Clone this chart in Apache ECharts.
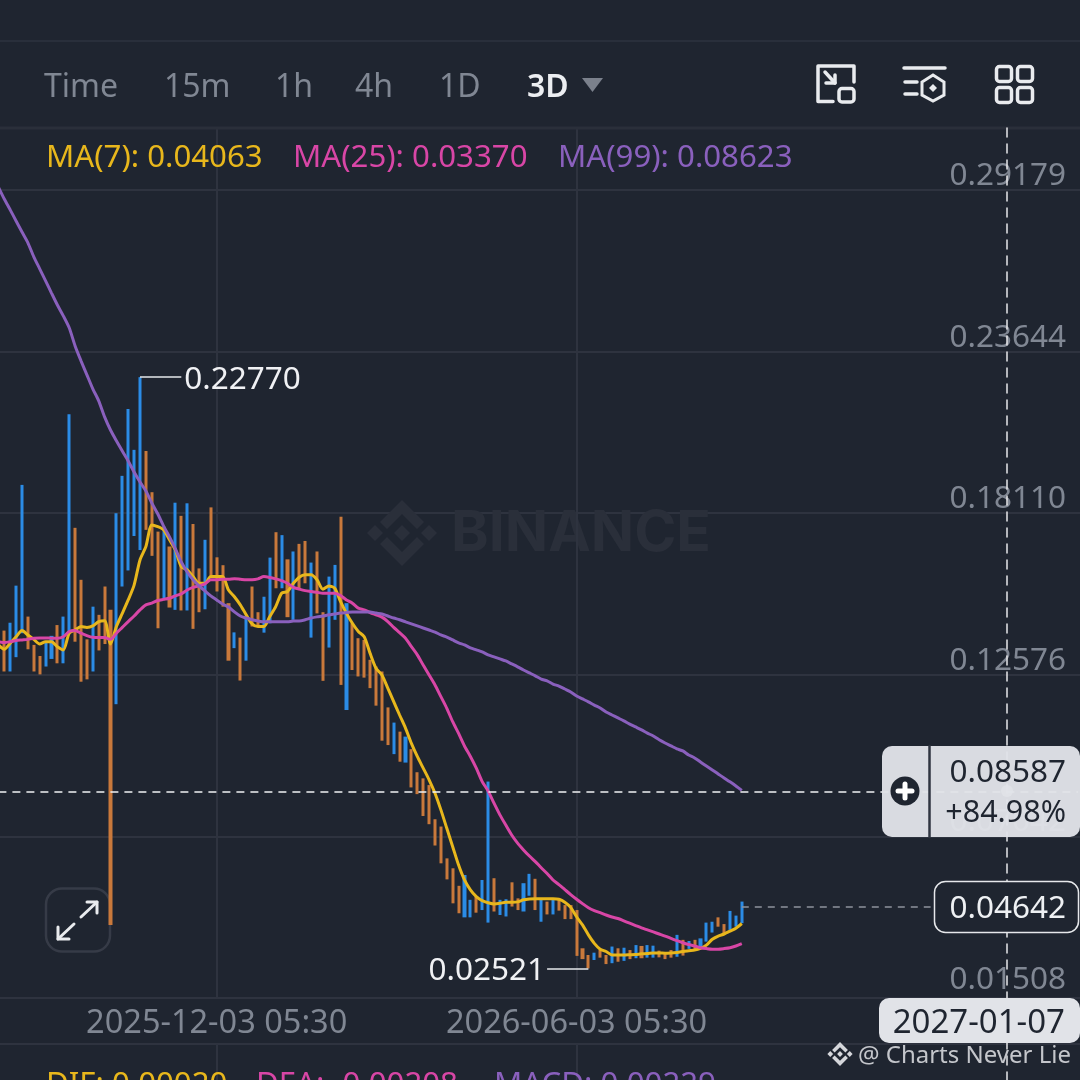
<!DOCTYPE html>
<html>
<head>
<meta charset="utf-8">
<style>html,body{margin:0;padding:0;background:#1f2530;overflow:hidden}#c{width:1080px;height:1080px}</style>
<script src="https://cdn.jsdelivr.net/npm/echarts@6/dist/echarts.min.js"></script>
</head>
<body>
<div id="c"></div>
<script>
const candleDir = ("DDUUUDDDUU"+"DUUDDDUDDD"+"UUUUUDDDUD"+"UDUDDUDDDD"+"UDUDDUUDUD"+"UDDUDDUUDU"+"DDDDDDDUDU"+"DDDDDDDDDU"+"UDUUDUUDDU"+"UDUDUDDDDD"+"DUDDUDUDUD"+"UUDDDUDUDU"+"UUDDUUU").split("");
const candleHigh = [
.1491,.1409,.1436,.1563,.1908,.1457,.1360,.1322,.1371,.1391,
.1428,.1457,.2150,.1761,.1583,.1379,.1491,.1463,.1560,.1480,
.1811,.1939,.2168,.2028,.2277,.2024,.1883,.1748,.1765,.1697,
.1847,.1802,.1845,.1774,.1622,.1720,.1831,.1660,.1633,.1503,
.1403,.1385,.1457,.1560,.1472,.1525,.1659,.1746,.1736,.1653,
.1680,.1706,.1716,.1642,.1680,.1472,.1594,.1634,.1799,.1503,
.1434,.1383,.1377,.1309,.1286,.1269,.1146,.1094,.1063,.1046,
.1003,.0924,.0903,.0880,.0763,.0738,.0629,.0595,.0535,.0572,
.0487,.0498,.0555,.0892,.0561,.0487,.0489,.0547,.0492,.0544,
.0576,.0559,.0487,.0481,.0487,.0492,.0469,.0469,.0452,.0321,
.0298,.0306,.0315,.0298,.0327,.0321,.0323,.0315,.0332,.0329,
.0332,.0330,.0313,.0304,.0315,.0367,.0350,.0346,.0350,.0355,
.0409,.0412,.0427,.0404,.0449,.0433,.0481];
const candleLow = [
.1331,.1269,.1269,.1318,.1400,.1345,.1269,.1259,.1286,.1312,
.1297,.1297,.1400,.1371,.1234,.1242,.1269,.1341,.1363,.0401,
.1157,.1560,.1615,.1733,.1685,.1754,.1665,.1417,.1514,.1488,
.1480,.1478,.1478,.1415,.1472,.1482,.1594,.1543,.1491,.1306,
.1349,.1238,.1306,.1423,.1423,.1402,.1434,.1554,.1554,.1455,
.1446,.1554,.1571,.1385,.1468,.1237,.1351,.1446,.1223,.1137,
.1274,.1252,.1248,.1212,.1152,.1032,.1017,.0986,.0960,.0957,
.0872,.0849,.0774,.0746,.0673,.0612,.0557,.0475,.0441,.0427,
.0427,.0443,.0452,.0409,.0447,.0435,.0430,.0464,.0452,.0447,
.0501,.0452,.0412,.0437,.0437,.0450,.0421,.0421,.0295,.0284,
.02521,.0281,.0289,.0267,.0270,.0275,.0278,.0284,.0287,.0287,
.0289,.0289,.0290,.0284,.0289,.0292,.0296,.0319,.0315,.0321,
.0344,.0375,.0395,.0367,.0384,.0395,.0407];
const ma7 = [
.1360,.1345,.1366,.1388,.1409,.1394,.1379,.1363,.1371,.1371,
.1354,.1343,.1400,.1411,.1423,.1420,.1425,.1440,.1443,.1363,
.1423,.1468,.1514,.1565,.1651,.1697,.1771,.1765,.1754,.1720,
.1685,.1628,.1617,.1594,.1571,.1571,.1594,.1594,.1594,.1548,
.1525,.1497,.1463,.1432,.1423,.1423,.1457,.1491,.1537,.1543,
.1571,.1592,.1600,.1600,.1583,.1551,.1562,.1554,.1508,.1468,
.1434,.1406,.1388,.1331,.1280,.1257,.1212,.1166,.1120,.1075,
.1023,.0978,.0938,.0898,.0852,.0795,.0732,.0669,.0606,.0555,
.0521,.0498,.0484,.0477,.0473,.0475,.0479,.0479,.0480,.0487,
.0490,.0491,.0491,.0491,.0491,.0489,.0479,.0461,.0429,.0401,
.0367,.0338,.0318,.0310,.0298,.0298,.0298,.0299,.0300,.0302,
.0303,.0305,.0305,.0304,.0305,.0307,.0310,.0313,.0315,.0321,
.0332,.0352,.0363,.0370,.0380,.0390,.0406];
const ma25 = [
.1371,.1368,.1371,.1375,.1377,.1379,.1383,.1384,.1384,.1383,
.1383,.1388,.1406,.1409,.1400,.1392,.1386,.1385,.1385,.1379,
.1400,.1420,.1440,.1459,.1480,.1497,.1503,.1512,.1516,.1520,
.1528,.1535,.1548,.1557,.1562,.1569,.1583,.1583,.1585,.1585,
.1587,.1585,.1583,.1583,.1586,.1594,.1591,.1586,.1580,.1571,
.1557,.1551,.1546,.1543,.1540,.1537,.1537,.1537,.1529,.1514,
.1503,.1486,.1480,.1471,.1463,.1455,.1440,.1420,.1402,.1383,
.1354,.1326,.1291,.1257,.1223,.1183,.1143,.1097,.1057,.1014,
.0978,.0938,.0892,.0860,.0818,.0778,.0743,.0709,.0681,.0658,
.0637,.0618,.0597,.0577,.0555,.0539,.0522,.0505,.0489,.0474,
.0460,.0450,.0443,.0435,.0428,.0423,.0415,.0407,.0399,.0391,
.0384,.0377,.0370,.0363,.0355,.0347,.0340,.0334,.0329,.0323,
.0320,.0318,.0318,.0320,.0323,.0329,.0337];
const ma99 = [
.2928,.2887,.2850,.2812,.2774,.2737,.2689,.2648,.2607,.2565,
.2524,.2487,.2446,.2384,.2333,.2285,.2237,.2196,.2141,.2096,
.2059,.2024,.1990,.1952,.1918,.1887,.1846,.1809,.1767,.1730,
.1689,.1644,.1610,.1583,.1562,.1545,.1528,.1514,.1500,.1490,
.1473,.1459,.1452,.1446,.1442,.1439,.1439,.1439,.1439,.1439,
.1442,.1442,.1446,.1452,.1456,.1459,.1463,.1466,.1469,.1471,
.1473,.1473,.1473,.1473,.1469,.1466,.1459,.1452,.1446,.1439,
.1432,.1425,.1418,.1411,.1404,.1394,.1387,.1377,.1367,.1360,
.1350,.1343,.1336,.1326,.1319,.1312,.1305,.1295,.1285,.1274,
.1264,.1254,.1243,.1237,.1226,.1219,.1209,.1199,.1185,.1175,
.1165,.1154,.1144,.1130,.1120,.1110,.1100,.1089,.1079,.1069,
.1058,.1048,.1035,.1024,.1014,.1004,.0997,.0983,.0973,.0959,
.0945,.0932,.0918,.0904,.0891,.0877,.0862];
const yTickValues = [0.01508,0.07042,0.12576,0.18110,0.23644,0.29179];
const xTickLabels = {37:"2025-12-03 05:30",98:"2026-06-03 05:30"};
const periodTabs = ["Time","15m","1h","4h","1D","3D"];
const highValue = 0.22770, lowValue = 0.02521, lastPrice = 0.04642, crossPrice = 0.08587;

const BG="#1f2530",GRID="#2e333f",AXIS="#808793",UP="#2b8ce6",DOWN="#c9793b",YEL="#e8b71c",PINK="#d846a6",PUR="#8a60bd",LIGHT="#e1e3e8";
const FONT="'Noto Sans', sans-serif";
const slotCount=184;
const categories=Array.from({length:slotCount},(_,i)=>xTickLabels[i]||String(i));
const candles=candleHigh.map((h,i)=>candleDir[i]==="U"?[candleLow[i],h,candleLow[i],h]:[h,candleLow[i],candleLow[i],h]);
const showTick=(i)=>!!xTickLabels[i];

function T(x,y,text,fill,size,align,z,weight,family){return {type:"text",z:z||50,style:{x,y,text,fill,font:(weight||400)+" "+size+"px "+(family||FONT),textAlign:align||"left",textVerticalAlign:"middle"}};}
function L(x1,y1,x2,y2,color,w,z,dash){return {type:"line",z:z||50,shape:{x1,y1,x2,y2},style:{stroke:color,lineWidth:w,lineDash:dash||null,lineCap:"round"}};}
function R(x,y,w,h,r,fill,stroke,sw,z,op){return {type:"rect",z:z||50,shape:{x,y,width:w,height:h,r},style:{fill:fill||"none",stroke:stroke||null,lineWidth:sw||0,opacity:op==null?1:op}};}
function P(points,color,w,z){return {type:"polyline",z:z||50,shape:{points},style:{stroke:color,lineWidth:w,fill:"none",lineCap:"round",lineJoin:"round"}};}
function G(points,fill,z){return {type:"polygon",z:z||50,shape:{points},style:{fill}};}
function logo(cx,cy,s,fill,z){
  const p=a=>a.map(q=>[cx+q[0]*s,cy+q[1]*s]);
  return [
    G(p([[0,-33],[22,-11],[15,-4],[0,-19],[-15,-4],[-22,-11]]),fill,z),
    G(p([[0,33],[22,11],[15,4],[0,19],[-15,4],[-22,11]]),fill,z),
    G(p([[0,-8],[8,0],[0,8],[-8,0]]),fill,z),
    G(p([[-27,-8],[-19,0],[-27,8],[-35,0]]),fill,z),
    G(p([[27,-8],[35,0],[27,8],[19,0]]),fill,z)
  ];
}
const I="#e9ebee";
const graphics=[
  ...logo(402,533,1,"#2a2f3a",1),
  T(451,534,"BINANCE","#2a2f3a",57,"left",1,700,"Inter"),
  L(0,41,1080,41,GRID,1.5,2),
  L(0,128,1080,128,"#2a2f3a",3,2),
  L(0,1044,1080,1044,GRID,2,2),
  L(217,1045,217,1080,GRID,2,2),
  L(577,1045,577,1080,GRID,2,2),
  T(44,88,periodTabs[0],AXIS,32),
  T(164,88,periodTabs[1],AXIS,32),
  T(275,88,periodTabs[2],AXIS,32),
  T(355,88,periodTabs[3],AXIS,32),
  T(439,88,periodTabs[4],AXIS,32),
  T(527,88,periodTabs[5],"#eceef1",32,"left",50,600),
  G([[582,78],[603,78],[592.5,92]],"#7b818c"),
  P([[833,101.5],[818,101.5],[818,66],[854,66],[854,82]],I,3.5),
  P([[825,72],[835,83]],I,3.5),
  P([[835,75],[835,83],[826,83]],I,3.5),
  R(839,88.5,15,13.5,3,null,I,3.5),
  L(904,68,945,68,I,3.5),
  L(905,82,917,82,I,3.5),
  L(905,94,917,94,I,3.5),
  {type:"polygon",z:50,shape:{points:[[933,75],[944,82],[944,95],[933,101],[922,95],[922,82]]},style:{fill:"none",stroke:I,lineWidth:3}},
  G([[933,84],[937,88],[933,92],[929,88]],I),
  R(996.5,66.5,15,15,3,null,I,3.5),R(1017.5,66.5,15,15,3,null,I,3.5),
  R(996.5,87.5,15,15,3,null,I,3.5),R(1017.5,87.5,15,15,3,null,I,3.5),
  T(46,158,"MA(7): 0.04063",YEL,31.2),
  T(293,158,"MA(25): 0.03370",PINK,31.2),
  T(558,158,"MA(99): 0.08623",PUR,31.2),
  R(46,888.5,64,63,16,null,"#363b47",2.5,1),
  P([[58,939],[74,924]],I,3),P([[58,927],[58,939],[69,939]],I,3),
  P([[81,917],[97,902]],I,3),P([[87,902],[97,902],[97,913]],I,3),
  L(1007,128,1007,1080,"#e8e8ea",1.5,60,[9,7]),
  {type:"circle",z:62,shape:{cx:1007,cy:791,r:6},style:{fill:"#f3f4f6",opacity:0.8}},
  R(882,746,198,91,10,LIGHT,null,0,70,0.96),
  L(929.5,746,929.5,837,"#2f3540",2.5,71),
  {type:"circle",z:71,shape:{cx:905,cy:791,r:14.5},style:{fill:BG}},
  L(898,791,912,791,"#fff",5,72),L(905,784,905,798,"#fff",5,72),
  T(1066,773,crossPrice.toFixed(5),BG,31.5,"right",72),
  T(1066,813,"+84.98%",BG,30.5,"right",72),
  R(934.5,881.5,144,51,11,BG,"#e6e8eb",1.5,70),
  T(1066,909,lastPrice.toFixed(5),"#eef0f3",31.5,"right",72),
  R(879,998,201,45,10,LIGHT,null,0,70),
  T(1065,1024,"2027-01-07",BG,33,"right",72),
  ...logo(840,1054,0.36,"#d5d7db",74),
  T(1071,1056,"@ Charts Never Lie","#c4c6cb",24,"right",74),
  T(46,1085,"DIF: 0.00020",YEL,31.2),
  T(256,1085,"DEA: -0.00208",PINK,31.2),
  T(494,1085,"MACD: 0.00229",PUR,31.2)
];

const chart=echarts.init(document.getElementById("c"),null,{renderer:"canvas",width:1080,height:1080});
const markLabel={show:true,color:"#f0f1f4",fontFamily:FONT,fontSize:31.5,distance:0,padding:[0,0,0,0]};
chart.setOption({
  animation:false,
  backgroundColor:BG,
  textStyle:{fontFamily:FONT},
  grid:{left:-4.55,top:128,width:5.9*slotCount,height:870,containLabel:false,outerBoundsMode:"none"},
  xAxis:{type:"category",data:categories,boundaryGap:true,
    axisLine:{show:true,lineStyle:{color:GRID,width:2}},
    axisTick:{show:false,alignWithLabel:true,interval:showTick},
    axisLabel:{show:true,interval:showTick,color:AXIS,fontFamily:FONT,fontSize:32.5,margin:9,hideOverlap:false,formatter:v=>xTickLabels[categories.indexOf(v)]||""},
    splitLine:{show:false}},
  yAxis:{type:"value",position:"right",min:0.01508,max:0.01508+870/2920,
    axisLine:{show:false},
    axisTick:{show:false,customValues:yTickValues},
    axisLabel:{show:true,inside:true,customValues:yTickValues,color:AXIS,fontFamily:FONT,fontSize:31.5,margin:15,verticalAlign:"bottom",lineHeight:28,showMinLabel:true,showMaxLabel:true,hideOverlap:false,
      rich:{low:{color:AXIS,fontFamily:FONT,fontSize:31.5,lineHeight:36}},
      formatter:v=>v===yTickValues[0]?"{low|"+v.toFixed(5)+"}":v.toFixed(5)},
    splitLine:{show:true,lineStyle:{color:GRID,width:2}}},
  series:[
    {type:"line",name:"TimeGrid",data:[],z:1,silent:true,showSymbol:false,
      markLine:{silent:true,symbol:"none",animation:false,z:1,label:{show:false},lineStyle:{color:GRID,width:2,type:"solid"},
        data:Object.keys(xTickLabels).map(k=>({xAxis:+k}))}},
    {type:"candlestick",name:"Price",data:candles,barWidth:3.6,z:3,
      itemStyle:{color:UP,color0:DOWN,borderColor:UP,borderColor0:DOWN,borderWidth:0},
      markLine:{silent:true,symbol:"none",animation:false,z:6,precision:5,
        data:[
          [{coord:[24,highValue],lineStyle:{color:"#e6e8eb",width:1.5,type:"solid"},label:{...markLabel,position:"end",offset:[3,3],formatter:highValue.toFixed(5)}},{coord:[31,highValue]}],
          [{coord:[100,lowValue],lineStyle:{color:"#e6e8eb",width:1.5,type:"solid"},label:{...markLabel,position:"end",offset:[-2,3],formatter:lowValue.toFixed(5)}},{coord:[93,lowValue]}],
          [{coord:[126,lastPrice],lineStyle:{color:"#8e939c",width:1.5,type:[7,6]},label:{show:false}},{coord:[158,lastPrice]}],
          [{coord:[0,crossPrice],lineStyle:{color:"#f1f2f4",width:1.5,type:[8,6]},label:{show:false}},{coord:[183,crossPrice]}]
        ]}},
    {type:"line",name:"MA7",data:ma7,showSymbol:false,z:4,lineStyle:{color:YEL,width:3},itemStyle:{color:YEL},smooth:0.25},
    {type:"line",name:"MA25",data:ma25,showSymbol:false,z:4,lineStyle:{color:PINK,width:3},itemStyle:{color:PINK},smooth:0.25},
    {type:"line",name:"MA99",data:ma99,showSymbol:false,z:4,lineStyle:{color:PUR,width:3},itemStyle:{color:PUR},smooth:0.25}
  ],
  graphic:{elements:graphics}
});
</script>
</body>
</html>
